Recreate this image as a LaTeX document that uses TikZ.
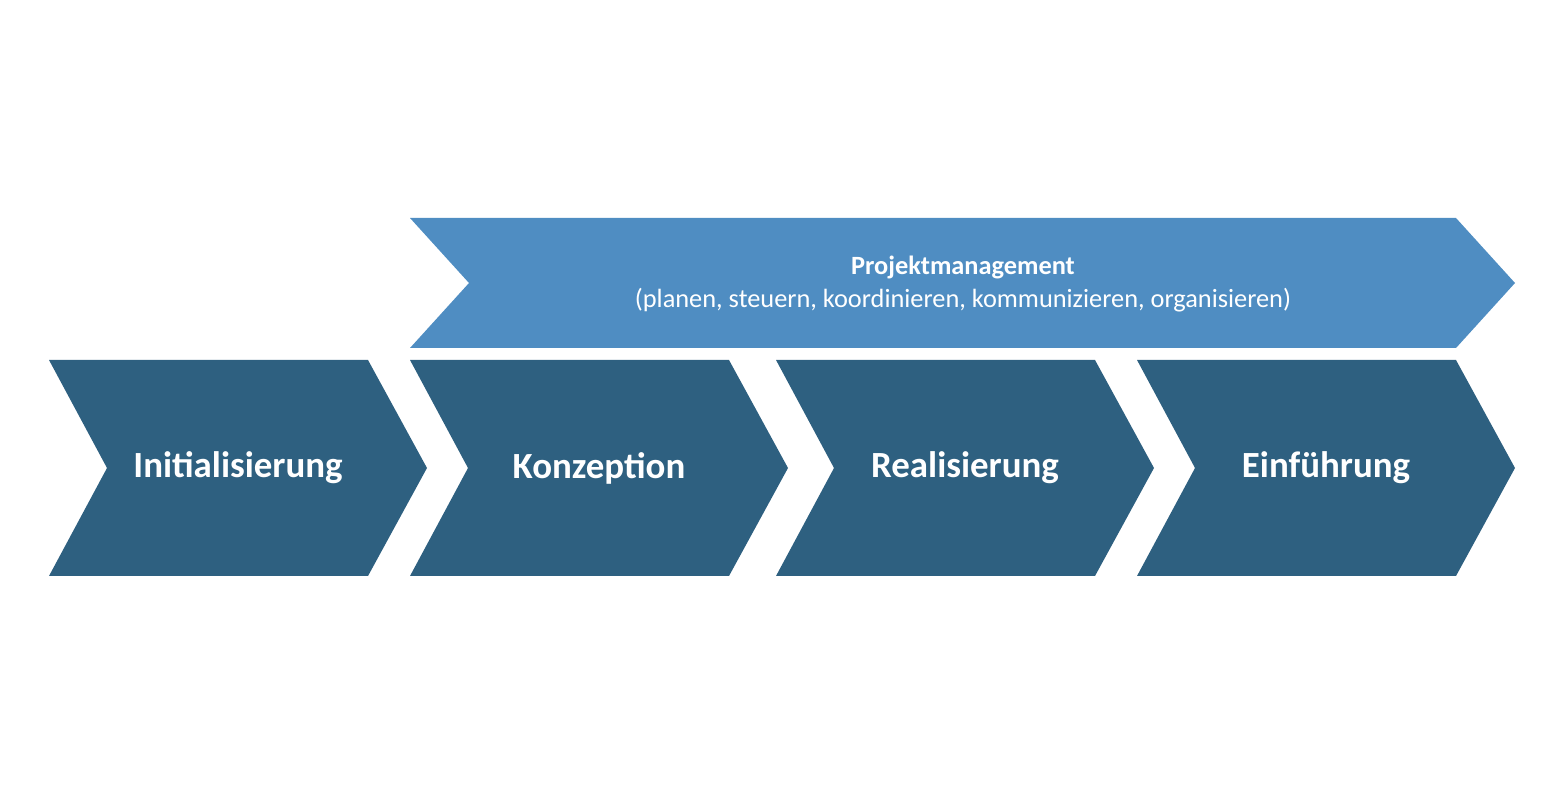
\documentclass[tikz,border=0pt]{standalone}
\usepackage{fontspec}
\setmainfont{Carlito}
\usepackage{xcolor}
\usepackage{tikz}
\usetikzlibrary{positioning, calc}
\definecolor{phaseblue}{RGB}{46, 96, 128}
\definecolor{pmblue}{RGB}{79, 141, 194}

\begin{document}
\begin{tikzpicture}[x=0.02cm, y=-0.02cm]
    \useasboundingbox (0,0) rectangle (1560,800);

    % Project management band
    \fill[pmblue] (410,218) -- (1456,218) -- (1515,283) -- (1456,348) -- (410,348) -- (469,283) -- cycle;
    \node[white, align=center, font=\fontsize{15}{19}\selectfont] (pm) at (963,284)
        {\textbf{Projektmanagement}\\(planen, steuern, koordinieren, kommunizieren, organisieren)};

    % Phase chevrons
    \foreach \x/\name/\label in {49/init/Initialisierung, 410/konz/Konzeption, 776/real/Realisierung, 1137/einf/Einführung} {
        \fill[phaseblue] (\x,360) -- (\x+319,360) -- (\x+378,468) -- (\x+319,576) -- (\x,576) -- (\x+58,468) -- cycle;
        \node[white, font=\bfseries\fontsize{21}{24}\selectfont] (\name) at (\x+189,468) {\label};
    }
\end{tikzpicture}
\end{document}
